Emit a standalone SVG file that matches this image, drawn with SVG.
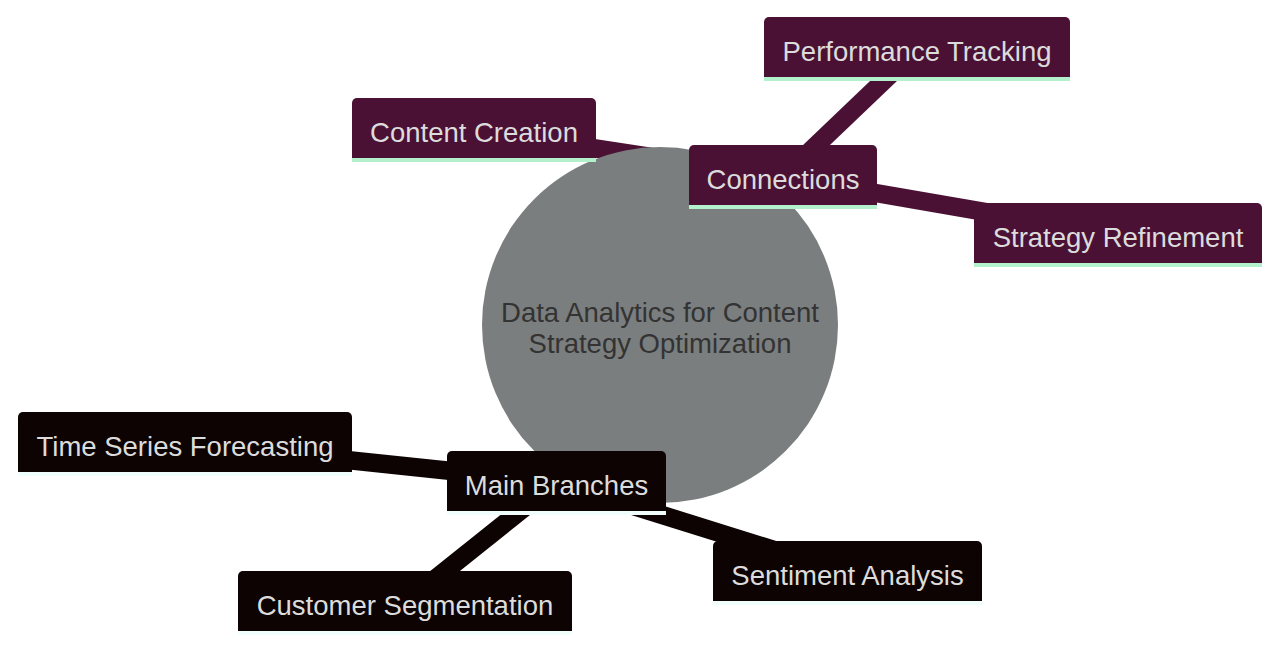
<svg xmlns="http://www.w3.org/2000/svg" width="1280" height="651" viewBox="0 0 1280 651">
<style>
text{font-family:"Liberation Sans",Arial,sans-serif;font-size:27.5px;text-anchor:middle}
.lbl{fill:#dcdcdc}
.root-lbl{fill:#333333}
.e{fill:none;stroke-width:18.5;stroke-linecap:butt}
.e0{fill:none;stroke-width:22;stroke-linecap:butt}
.p{stroke:#4b1135}
.k{stroke:#0d0303}
.pf{fill:#4b1135}
.kf{fill:#0d0303}
.ps{fill:#b3f0cc}
.ks{fill:#f0fffc}
</style>
<rect width="1280" height="651" fill="#ffffff"/>
<g id="connectors">
<line class="e0 p" x1="660" y1="325" x2="783" y2="177"/>
<line class="e0 k" x1="660" y1="325" x2="556.5" y2="482"/>
<line class="e p" x1="783" y1="177" x2="474" y2="130"/>
<line class="e p" x1="783" y1="177" x2="917" y2="49"/>
<line class="e p" x1="783" y1="177" x2="1118" y2="235"/>
<line class="e k" x1="556.5" y1="482" x2="185" y2="443"/>
<line class="e k" x1="556.5" y1="482" x2="405" y2="603"/>
<line class="e k" x1="556.5" y1="482" x2="847.5" y2="573"/>
</g>
<g id="root">
<circle cx="660" cy="325" r="178" fill="#7b7e7e"/>
<text class="root-lbl" x="660" y="322">Data Analytics for Content</text>
<text class="root-lbl" x="660" y="353">Strategy Optimization</text>
</g>
<g id="connections">
<path class="pf" d="M689 209 V150 a5 5 0 0 1 5 -5 H872 a5 5 0 0 1 5 5 V209 Z"/>
<rect class="ps" x="689" y="205" width="188" height="4"/>
<text class="lbl" x="783" y="189">Connections</text>
</g>
<g id="content-creation">
<path class="pf" d="M352 162 V103 a5 5 0 0 1 5 -5 H591 a5 5 0 0 1 5 5 V162 Z"/>
<rect class="ps" x="352" y="158" width="244" height="4"/>
<text class="lbl" x="474" y="142">Content Creation</text>
</g>
<g id="performance-tracking">
<path class="pf" d="M764 81 V22 a5 5 0 0 1 5 -5 H1065 a5 5 0 0 1 5 5 V81 Z"/>
<rect class="ps" x="764" y="77" width="306" height="4"/>
<text class="lbl" x="917" y="61">Performance Tracking</text>
</g>
<g id="strategy-refinement">
<path class="pf" d="M974 267 V208 a5 5 0 0 1 5 -5 H1257 a5 5 0 0 1 5 5 V267 Z"/>
<rect class="ps" x="974" y="263" width="288" height="4"/>
<text class="lbl" x="1118" y="247">Strategy Refinement</text>
</g>
<g id="main-branches">
<path class="kf" d="M447 515 V456 a5 5 0 0 1 5 -5 H661 a5 5 0 0 1 5 5 V515 Z"/>
<rect class="ks" x="447" y="511" width="219" height="4"/>
<text class="lbl" x="556.5" y="495">Main Branches</text>
</g>
<g id="time-series-forecasting">
<path class="kf" d="M18 476 V417 a5 5 0 0 1 5 -5 H347 a5 5 0 0 1 5 5 V476 Z"/>
<rect class="ks" x="18" y="472" width="334" height="4"/>
<text class="lbl" x="185" y="456">Time Series Forecasting</text>
</g>
<g id="customer-segmentation">
<path class="kf" d="M238 635 V576 a5 5 0 0 1 5 -5 H567 a5 5 0 0 1 5 5 V635 Z"/>
<rect class="ks" x="238" y="631" width="334" height="4"/>
<text class="lbl" x="405" y="615">Customer Segmentation</text>
</g>
<g id="sentiment-analysis">
<path class="kf" d="M713 605 V546 a5 5 0 0 1 5 -5 H977 a5 5 0 0 1 5 5 V605 Z"/>
<rect class="ks" x="713" y="601" width="269" height="4"/>
<text class="lbl" x="847.5" y="585">Sentiment Analysis</text>
</g>
</svg>
